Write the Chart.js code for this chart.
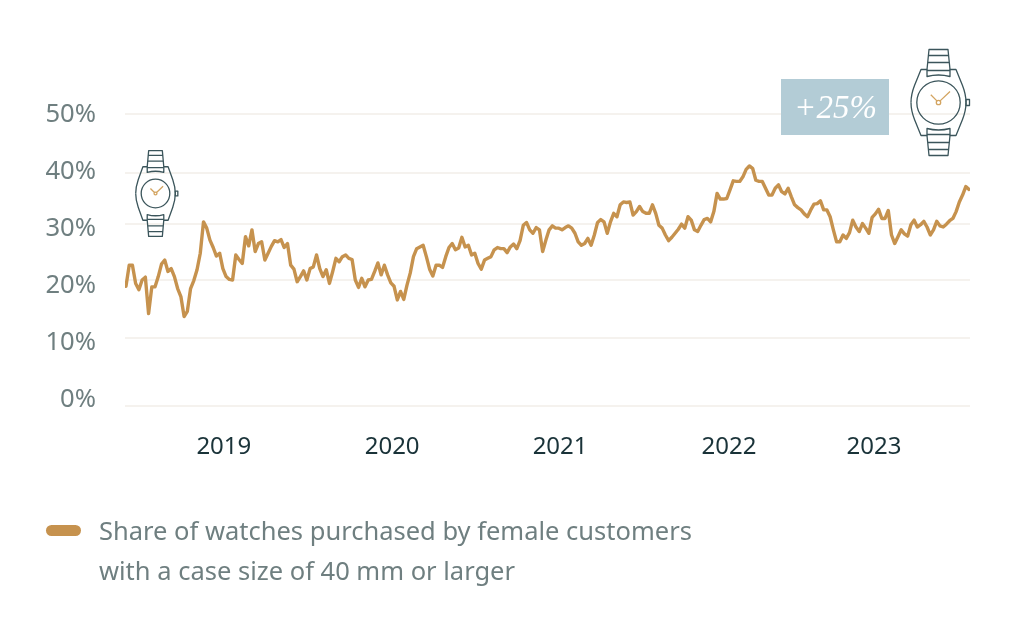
<!DOCTYPE html>
<html>
<head>
<meta charset="utf-8">
<title>Large case watches</title>
<script src="https://cdn.jsdelivr.net/npm/chart.js@4"></script>
<style>
  html, body { margin: 0; padding: 0; background: #fff; }
  canvas { display: block; }
</style>
</head>
<body>
<canvas id="chart" width="1024" height="625"></canvas>
<script>
// Weekly share (%) of large-case watches, oldest week first.
const shareValues = [
  19.6, 23.3, 23.3, 20.1, 19.0, 20.7, 21.2, 14.8, 19.5, 19.5, 21.3, 23.5, 24.2, 22.2, 22.7, 21.3,
  19.2, 17.8, 14.3, 15.2, 19.2, 20.6, 22.5, 25.4, 30.9, 29.8, 27.7, 26.4, 24.9, 25.4, 22.7, 21.3,
  20.8, 20.7, 25.1, 24.3, 23.6, 28.3, 26.7, 29.5, 25.7, 27.1, 27.4, 24.2, 25.4, 26.6, 27.6, 27.4,
  27.8, 26.4, 27.1, 23.3, 22.6, 20.4, 21.3, 22.3, 20.7, 22.7, 23.0, 25.1, 22.7, 21.3, 22.5, 20.1,
  22.2, 24.5, 23.9, 24.8, 25.1, 24.5, 24.3, 20.7, 19.4, 21.0, 19.5, 20.7, 20.8, 22.2, 23.7, 21.6,
  23.3, 21.6, 20.2, 19.6, 17.2, 18.7, 17.3, 19.8, 21.9, 24.8, 26.2, 26.5,
  26.8, 24.8, 22.6, 21.4, 23.3, 23.3, 22.9, 24.8, 26.4, 27.1, 26.0, 26.3, 28.2, 26.5, 26.8, 25.1,
  25.4, 23.6, 22.6, 24.2, 24.5, 24.8, 26.0, 26.4, 26.2, 26.2, 25.5, 26.5, 27.0, 26.2, 27.6, 30.3,
  30.8, 29.5, 28.9, 29.9, 29.5, 25.7, 27.7, 29.5, 30.2, 29.8, 29.8, 29.5, 29.9, 30.2, 29.8, 28.9,
  27.4, 26.8, 27.1, 28.0, 26.8, 28.6, 30.8, 31.3, 30.9, 28.9, 30.9, 32.4, 31.8, 33.9, 34.4, 34.3,
  34.4, 32.1, 32.7, 33.6, 32.7, 32.4, 32.4, 33.9, 32.4, 30.3, 29.8, 28.6, 27.6, 28.2, 28.9, 29.6,
  30.5, 29.8, 31.8, 31.2, 29.5, 29.2,
  30.3, 31.3, 31.5, 30.9, 32.7, 35.9, 34.9, 34.9, 35.0, 36.5, 38.1, 38.0, 38.0, 38.8, 40.1, 40.7,
  40.3, 38.2, 38.0, 38.0, 36.8, 35.6, 35.6, 36.8, 37.4, 36.2, 35.8, 36.8, 35.3, 33.9, 33.4, 33.0,
  32.3, 31.8, 33.0, 34.0, 34.1, 34.6, 33.0, 33.0, 31.8, 29.5, 27.4, 27.4, 28.6, 28.0, 29.0, 31.2,
  30.0, 29.2, 30.6, 29.8, 28.9, 31.7, 32.3, 33.1, 31.5, 31.5, 32.9, 28.6, 27.1, 28.3, 29.5, 28.8,
  28.4, 30.4, 31.2, 30.0, 30.4, 31.0, 30.0, 28.6, 29.5, 31.0, 30.2, 30.0, 30.5, 31.1, 31.5, 32.7,
  34.4, 35.6, 37.1, 36.6
];

// Week index of each year label along the x axis.
const yearLabels = ['2019', '2020', '2021', '2022', '2023'];
const yearWeeks = [30.3, 82.4, 134.4, 186.7, 231.6];

const percentTicks = [0, 10, 20, 30, 40, 50];
const gridValues = [-1.4, 10.5, 20.7, 30.6, 39.5, 49.9];

const legendLines = [
  'Share of watches purchased by female customers',
  'with a case size of 40 mm or larger'
];
const calloutText = '+25%';

const LINE_COLOR = '#c6924e';
const INK = '#3b555b';
const HAND = '#d3a460';
const FONT = '"Noto Sans", "Open Sans", sans-serif';

// Outline watch with a bracelet; sx/sy stretch the case, dialR is in pixels.
function drawWatch(ctx, cx, cy, sx, sy, dialR) {
  const X = v => cx + v * sx;
  const Y = v => cy + v * sy;
  ctx.save();
  ctx.strokeStyle = INK;
  ctx.lineWidth = 1.3;
  ctx.lineJoin = 'round';

  // top half, then the same again mirrored
  [-1, 1].forEach(dir => {
    // bracelet links
    ctx.beginPath();
    ctx.moveTo(X(-11.5), Y(dir * 33));
    ctx.lineTo(X(-9.5), Y(dir * 53));
    ctx.lineTo(X(9.5), Y(dir * 53));
    ctx.lineTo(X(11.5), Y(dir * 33));
    [47, 40, 32].forEach(r => {
      const half = 9.5 + (53 - r) * 2 / 20;
      ctx.moveTo(X(-half), Y(dir * r));
      ctx.lineTo(X(half), Y(dir * r));
    });
    ctx.stroke();

    // case outline with its two lugs
    ctx.beginPath();
    ctx.moveTo(X(-27.5), Y(0));
    ctx.quadraticCurveTo(X(-27.5), Y(dir * 8), X(-24), Y(dir * 17));
    ctx.lineTo(X(-17.5), Y(dir * 33));
    ctx.lineTo(X(-11.5), Y(dir * 33));
    ctx.lineTo(X(-11.5), Y(dir * 26));
    ctx.quadraticCurveTo(X(0), Y(dir * 29), X(11.5), Y(dir * 26));
    ctx.lineTo(X(11.5), Y(dir * 33));
    ctx.lineTo(X(17.5), Y(dir * 33));
    ctx.lineTo(X(24), Y(dir * 17));
    ctx.quadraticCurveTo(X(27.5), Y(dir * 8), X(27.5), Y(0));
    ctx.stroke();
  });

  // crown
  ctx.strokeRect(X(27.5), Y(-3), 3.5 * sx, 6 * sy);

  // dial
  ctx.beginPath();
  ctx.arc(cx, cy, dialR, 0, Math.PI * 2);
  ctx.stroke();

  // hands
  const unit = dialR / 21.7;
  ctx.strokeStyle = HAND;
  ctx.beginPath();
  ctx.arc(cx, cy, 2.2 * unit, 0, Math.PI * 2);
  ctx.moveTo(cx + 1.6 * unit, cy - 1.6 * unit);
  ctx.lineTo(cx + 11.5 * unit, cy - 11 * unit);
  ctx.moveTo(cx - 1.6 * unit, cy - 1.6 * unit);
  ctx.lineTo(cx - 7.7 * unit, cy - 7.7 * unit);
  ctx.stroke();
  ctx.restore();
}

// Callout box, both watches and the legend key with its two text lines.
const decorations = {
  id: 'decorations',
  afterDraw(chart) {
    const ctx = chart.ctx;
    ctx.save();

    ctx.fillStyle = '#b3ccd6';
    ctx.fillRect(781, 79, 108, 56);
    ctx.fillStyle = '#fff';
    ctx.font = 'italic 33px "Liberation Serif", serif';
    ctx.textAlign = 'center';
    ctx.textBaseline = 'middle';
    ctx.fillText(calloutText, 835.5, 109.5);

    drawWatch(ctx, 938.5, 102.5, 1, 1, 21.7);
    drawWatch(ctx, 155.5, 193.5, 0.72, 0.81, 14.3);

    ctx.fillStyle = LINE_COLOR;
    ctx.beginPath();
    ctx.roundRect(46, 525, 35, 11, 5.5);
    ctx.fill();

    ctx.fillStyle = '#6f7f80';
    ctx.font = '25.5px ' + FONT;
    ctx.textAlign = 'left';
    ctx.textBaseline = 'alphabetic';
    legendLines.forEach((line, i) => ctx.fillText(line, 99, 540 + i * 40));
    ctx.restore();
  }
};

new Chart(document.getElementById('chart').getContext('2d'), {
  type: 'line',
  data: {
    datasets: [{
      data: shareValues.map((v, i) => ({ x: i, y: v })),
      borderColor: LINE_COLOR,
      borderWidth: 3.4,
      pointRadius: 0,
      tension: 0,
      borderJoinStyle: 'round',
      borderCapStyle: 'round'
    }]
  },
  options: {
    responsive: false,
    animation: false,
    layout: { padding: { top: 101.6, right: 54, left: 0, bottom: 0 } },
    plugins: { legend: { display: false }, tooltip: { enabled: false } },
    scales: {
      x: {
        type: 'linear',
        min: -0.3,
        max: 261.3,
        grid: { display: false },
        border: { display: false },
        afterBuildTicks(scale) { scale.ticks = yearWeeks.map(v => ({ value: v })); },
        afterFit(scale) { scale.height = 215.6; },
        ticks: {
          autoSkip: false,
          maxRotation: 0,
          padding: 15,
          color: '#1a3339',
          font: { family: FONT, size: 24 },
          callback: v => yearLabels[yearWeeks.indexOf(v)]
        }
      },
      y: {
        min: -2,
        max: 52,
        grid: { display: false, drawTicks: false },
        border: { display: false },
        afterBuildTicks(scale) { scale.ticks = percentTicks.map(v => ({ value: v })); },
        afterFit(scale) { scale.width = 125; },
        ticks: {
          padding: 29,
          labelOffset: 2,
          color: '#6f7f80',
          font: { family: FONT, size: 25.6 },
          callback: v => v + '%'
        }
      },
      // Separate axis that only carries the horizontal rules.
      yGrid: {
        position: 'left',
        min: -2,
        max: 52,
        border: { display: false },
        grid: { color: '#f5f2ee', lineWidth: 2, drawTicks: false },
        afterBuildTicks(scale) { scale.ticks = gridValues.map(v => ({ value: v })); },
        afterFit(scale) { scale.width = 0; },
        ticks: { display: false }
      }
    }
  },
  plugins: [decorations]
});
</script>
</body>
</html>
